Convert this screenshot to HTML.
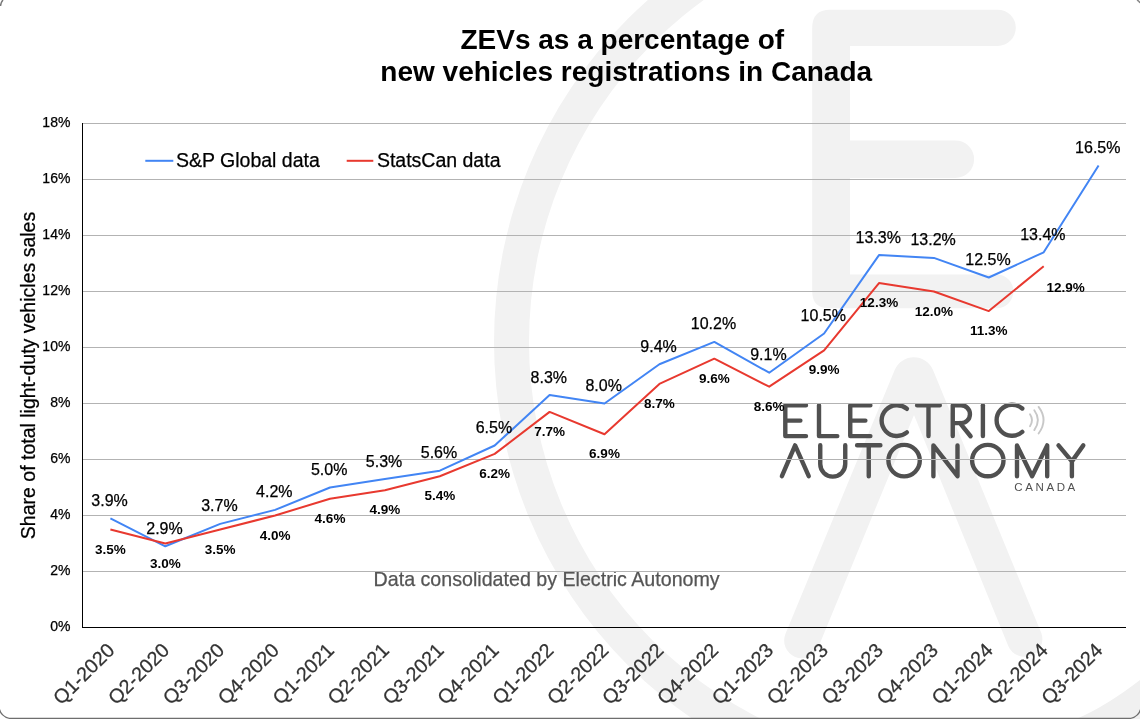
<!DOCTYPE html>
<html><head><meta charset="utf-8"><style>
html,body{margin:0;padding:0;background:#fff;}
body{width:1140px;height:719px;overflow:hidden;position:relative;}
svg{position:absolute;left:0;top:0;display:block;will-change:transform;}
text{font-family:"Liberation Sans",sans-serif;}
.s{stroke:currentColor;stroke-width:0.25px;}
</style></head><body>
<svg width="1140" height="719" viewBox="0 0 1140 719">
<rect x="0" y="0" width="1140" height="719" fill="#ffffff"/>
<path fill="#f2f2f2" fill-rule="evenodd" d="M494,342 a457,457 0 1,0 914,0 a457,457 0 1,0 -914,0 Z M529,342 a422,422 0 1,0 844,0 a422,422 0 1,0 -844,0 Z"/>
<g fill="#f2f2f2"><path d="M812.2,28 Q812.2,9.7 830,9.7 L997.7,9.7 A18.1,18.1 0 0 1 997.7,45.9 L850,45.9 L850,140.4 L955.3,140.4 A18.8,18.8 0 0 1 955.3,178 L850,178 L850,274.4 L997.7,274.4 A17,17 0 0 1 997.7,308.3 L829,308.3 Q812.2,308.3 812.2,291 Z"/><path d="M785.5,633.7 L894.8,369.8 A20.7,20.7 0 0 1 932.9,369.8 L1041.3,633 A17.75,17.75 0 0 1 1008.5,646.5 L914,415 L818.3,647.3 A17.75,17.75 0 0 1 785.5,633.7 Z"/></g>
<text x="70.4" y="630.8" font-size="14" text-anchor="end" fill="#000" color="#000" class="s">0%</text>
<text x="70.4" y="574.8" font-size="14" text-anchor="end" fill="#000" color="#000" class="s">2%</text>
<text x="70.4" y="518.8" font-size="14" text-anchor="end" fill="#000" color="#000" class="s">4%</text>
<text x="70.4" y="462.8" font-size="14" text-anchor="end" fill="#000" color="#000" class="s">6%</text>
<text x="70.4" y="406.8" font-size="14" text-anchor="end" fill="#000" color="#000" class="s">8%</text>
<text x="70.4" y="350.8" font-size="14" text-anchor="end" fill="#000" color="#000" class="s">10%</text>
<text x="70.4" y="294.8" font-size="14" text-anchor="end" fill="#000" color="#000" class="s">12%</text>
<text x="70.4" y="238.8" font-size="14" text-anchor="end" fill="#000" color="#000" class="s">14%</text>
<text x="70.4" y="182.8" font-size="14" text-anchor="end" fill="#000" color="#000" class="s">16%</text>
<text x="70.4" y="126.8" font-size="14" text-anchor="end" fill="#000" color="#000" class="s">18%</text>
<text transform="translate(34.7,375.5) rotate(-90)" font-size="19.5" text-anchor="middle" fill="#000" color="#000" class="s">Share of total light-duty vehicles sales</text>
<text x="622.3" y="48.7" font-size="28" font-weight="bold" text-anchor="middle" fill="#000">ZEVs as a percentage of</text>
<text x="626.2" y="81.2" font-size="28" font-weight="bold" text-anchor="middle" fill="#000">new vehicles registrations in Canada</text>
<rect x="145.3" y="159.8" width="28" height="2" fill="#4285f4"/>
<text x="176" y="166.7" font-size="19.5" fill="#000" color="#000" class="s">S&amp;P Global data</text>
<rect x="346.7" y="159.8" width="26.6" height="2" fill="#e8392f"/>
<text x="376.9" y="166.7" font-size="19.5" fill="#000" color="#000" class="s">StatsCan data</text>
<text x="373.6" y="586" font-size="19.65" fill="#555" color="#555" class="s">Data consolidated by Electric Autonomy</text>
<g fill="none" stroke="#505050" stroke-width="4.4" stroke-linecap="round" stroke-linejoin="round"><path d="M806,405.2 L785.3,405.2 L785.3,436.1 L806,436.1 M785.3,420.6 L800.4,420.6"/><path d="M819,405.2 L819,436.1 L837.3,436.1"/><path d="M870.4,405.2 L850.25,405.2 L850.25,436.1 L870.4,436.1 M850.25,420.6 L865.4,420.6"/><path d="M906.90,408.80 A15.4,15.4 0 1 0 906.90,432.40"/><path d="M917.1,405.2 L939.8,405.2 M928.5,405.2 L928.5,436"/><path d="M952.75,436.1 L952.75,405.2 L961,405.2 A8.95,8.95 0 0 1 961,423.1 L952.75,423.1 M960,423.1 L970.6,436.25"/><path d="M982.9,405.2 L982.9,436.1"/><path d="M1022.27,408.50 A15.5,15.5 0 1 0 1022.27,431.90"/><path d="M781.9,476.2 L795.1,445.4 L808.75,476.2"/><path d="M820.25,445.2 L820.25,464.1 A12.5,12.5 0 0 0 845.25,464.1 L845.25,445.2"/><path d="M857.1,445.2 L880.4,445.2 M868.75,445.2 L868.75,476.2"/><path d="M904.1,460.6 m-15.7,0 a15.7,15.7 0 1 0 31.4,0 a15.7,15.7 0 1 0 -31.4,0"/><path d="M933.4,476.2 L933.4,445.4 L957.5,476.2 L957.5,445.4"/><path d="M987.8,460.6 m-15.7,0 a15.7,15.7 0 1 0 31.4,0 a15.7,15.7 0 1 0 -31.4,0"/><path d="M1017,476.2 L1017,445.4 L1032.1,476.2 L1047.2,445.4 L1047.2,476.2"/><path d="M1058.5,445.4 L1071.9,461.4 L1083.3,445.4 M1071.9,461.4 L1071.9,476.2"/></g>
<g fill="none" stroke="#c8c8c8" stroke-width="1.9" stroke-linecap="round"><path d="M1030,414.2 Q1034,420 1030,426.2"/><path d="M1034.3,410.2 Q1041.5,420 1034.3,430.1"/><path d="M1038.6,406.9 Q1048.5,420 1038.6,433.5"/></g>
<text x="1014.3" y="491.3" font-size="11.5" letter-spacing="2.6" fill="#505050">CANADA</text>
<rect x="83" y="571" width="1043" height="1" fill="#b3b3b3"/>
<rect x="83" y="515" width="1043" height="1" fill="#b3b3b3"/>
<rect x="83" y="459" width="1043" height="1" fill="#b3b3b3"/>
<rect x="83" y="403" width="1043" height="1" fill="#b3b3b3"/>
<rect x="83" y="347" width="1043" height="1" fill="#b3b3b3"/>
<rect x="83" y="291" width="1043" height="1" fill="#b3b3b3"/>
<rect x="83" y="235" width="1043" height="1" fill="#b3b3b3"/>
<rect x="83" y="179" width="1043" height="1" fill="#b3b3b3"/>
<rect x="83" y="123" width="1043" height="1" fill="#b3b3b3"/>
<rect x="82" y="123" width="1" height="505" fill="#000"/>
<rect x="82" y="627" width="1044" height="1" fill="#000"/>
<polyline fill="none" stroke="#4285f4" stroke-width="2" stroke-linejoin="round" points="110.4,518.3 165.3,546.3 220.2,523.9 275.1,509.9 330.0,487.5 384.9,479.1 439.8,470.7 494.7,445.5 549.6,395.1 604.5,403.5 659.4,364.3 714.3,341.9 769.2,372.7 824.1,333.5 879.0,255.1 933.9,257.9 988.8,277.5 1043.7,252.3 1098.6,165.5"/>
<polyline fill="none" stroke="#e8392f" stroke-width="2" stroke-linejoin="round" points="110.4,529.5 165.3,543.5 220.2,529.5 275.1,515.5 330.0,498.7 384.9,490.3 439.8,476.3 494.7,453.9 549.6,411.9 604.5,434.3 659.4,383.9 714.3,358.7 769.2,386.7 824.1,350.3 879.0,283.1 933.9,291.5 988.8,311.1 1043.7,266.3"/>
<text x="109.6" y="505.8" font-size="16" text-anchor="middle" fill="#000" color="#000" class="s">3.9%</text>
<text x="164.5" y="533.8" font-size="16" text-anchor="middle" fill="#000" color="#000" class="s">2.9%</text>
<text x="219.4" y="511.4" font-size="16" text-anchor="middle" fill="#000" color="#000" class="s">3.7%</text>
<text x="274.3" y="497.4" font-size="16" text-anchor="middle" fill="#000" color="#000" class="s">4.2%</text>
<text x="329.2" y="475.0" font-size="16" text-anchor="middle" fill="#000" color="#000" class="s">5.0%</text>
<text x="384.1" y="466.6" font-size="16" text-anchor="middle" fill="#000" color="#000" class="s">5.3%</text>
<text x="439.0" y="458.2" font-size="16" text-anchor="middle" fill="#000" color="#000" class="s">5.6%</text>
<text x="493.9" y="433.0" font-size="16" text-anchor="middle" fill="#000" color="#000" class="s">6.5%</text>
<text x="548.8" y="382.6" font-size="16" text-anchor="middle" fill="#000" color="#000" class="s">8.3%</text>
<text x="603.7" y="391.0" font-size="16" text-anchor="middle" fill="#000" color="#000" class="s">8.0%</text>
<text x="658.6" y="351.8" font-size="16" text-anchor="middle" fill="#000" color="#000" class="s">9.4%</text>
<text x="713.5" y="329.4" font-size="16" text-anchor="middle" fill="#000" color="#000" class="s">10.2%</text>
<text x="768.4" y="360.2" font-size="16" text-anchor="middle" fill="#000" color="#000" class="s">9.1%</text>
<text x="823.3" y="321.0" font-size="16" text-anchor="middle" fill="#000" color="#000" class="s">10.5%</text>
<text x="878.2" y="242.6" font-size="16" text-anchor="middle" fill="#000" color="#000" class="s">13.3%</text>
<text x="933.1" y="245.4" font-size="16" text-anchor="middle" fill="#000" color="#000" class="s">13.2%</text>
<text x="988.0" y="265.0" font-size="16" text-anchor="middle" fill="#000" color="#000" class="s">12.5%</text>
<text x="1042.9" y="239.8" font-size="16" text-anchor="middle" fill="#000" color="#000" class="s">13.4%</text>
<text x="1097.8" y="153.0" font-size="16" text-anchor="middle" fill="#000" color="#000" class="s">16.5%</text>
<text x="110.4" y="553.6" font-size="13.5" font-weight="bold" text-anchor="middle" fill="#000">3.5%</text>
<text x="165.3" y="567.6" font-size="13.5" font-weight="bold" text-anchor="middle" fill="#000">3.0%</text>
<text x="220.2" y="553.6" font-size="13.5" font-weight="bold" text-anchor="middle" fill="#000">3.5%</text>
<text x="275.1" y="539.6" font-size="13.5" font-weight="bold" text-anchor="middle" fill="#000">4.0%</text>
<text x="330.0" y="522.8" font-size="13.5" font-weight="bold" text-anchor="middle" fill="#000">4.6%</text>
<text x="384.9" y="514.4" font-size="13.5" font-weight="bold" text-anchor="middle" fill="#000">4.9%</text>
<text x="439.8" y="500.4" font-size="13.5" font-weight="bold" text-anchor="middle" fill="#000">5.4%</text>
<text x="494.7" y="478.0" font-size="13.5" font-weight="bold" text-anchor="middle" fill="#000">6.2%</text>
<text x="549.6" y="436.0" font-size="13.5" font-weight="bold" text-anchor="middle" fill="#000">7.7%</text>
<text x="604.5" y="458.4" font-size="13.5" font-weight="bold" text-anchor="middle" fill="#000">6.9%</text>
<text x="659.4" y="408.0" font-size="13.5" font-weight="bold" text-anchor="middle" fill="#000">8.7%</text>
<text x="714.3" y="382.8" font-size="13.5" font-weight="bold" text-anchor="middle" fill="#000">9.6%</text>
<text x="769.2" y="410.8" font-size="13.5" font-weight="bold" text-anchor="middle" fill="#000">8.6%</text>
<text x="824.1" y="374.4" font-size="13.5" font-weight="bold" text-anchor="middle" fill="#000">9.9%</text>
<text x="879.0" y="307.2" font-size="13.5" font-weight="bold" text-anchor="middle" fill="#000">12.3%</text>
<text x="933.9" y="315.6" font-size="13.5" font-weight="bold" text-anchor="middle" fill="#000">12.0%</text>
<text x="988.8" y="335.2" font-size="13.5" font-weight="bold" text-anchor="middle" fill="#000">11.3%</text>
<text x="1065.7" y="292.4" font-size="13.5" font-weight="bold" text-anchor="middle" fill="#000">12.9%</text>
<text transform="translate(115.7,651.4) rotate(-45)" font-size="19.8" text-anchor="end" fill="#333" color="#333" class="s">Q1-2020</text>
<text transform="translate(170.6,651.4) rotate(-45)" font-size="19.8" text-anchor="end" fill="#333" color="#333" class="s">Q2-2020</text>
<text transform="translate(225.5,651.4) rotate(-45)" font-size="19.8" text-anchor="end" fill="#333" color="#333" class="s">Q3-2020</text>
<text transform="translate(280.4,651.4) rotate(-45)" font-size="19.8" text-anchor="end" fill="#333" color="#333" class="s">Q4-2020</text>
<text transform="translate(335.3,651.4) rotate(-45)" font-size="19.8" text-anchor="end" fill="#333" color="#333" class="s">Q1-2021</text>
<text transform="translate(390.2,651.4) rotate(-45)" font-size="19.8" text-anchor="end" fill="#333" color="#333" class="s">Q2-2021</text>
<text transform="translate(445.1,651.4) rotate(-45)" font-size="19.8" text-anchor="end" fill="#333" color="#333" class="s">Q3-2021</text>
<text transform="translate(500.0,651.4) rotate(-45)" font-size="19.8" text-anchor="end" fill="#333" color="#333" class="s">Q4-2021</text>
<text transform="translate(554.9,651.4) rotate(-45)" font-size="19.8" text-anchor="end" fill="#333" color="#333" class="s">Q1-2022</text>
<text transform="translate(609.8,651.4) rotate(-45)" font-size="19.8" text-anchor="end" fill="#333" color="#333" class="s">Q2-2022</text>
<text transform="translate(664.7,651.4) rotate(-45)" font-size="19.8" text-anchor="end" fill="#333" color="#333" class="s">Q3-2022</text>
<text transform="translate(719.6,651.4) rotate(-45)" font-size="19.8" text-anchor="end" fill="#333" color="#333" class="s">Q4-2022</text>
<text transform="translate(774.5,651.4) rotate(-45)" font-size="19.8" text-anchor="end" fill="#333" color="#333" class="s">Q1-2023</text>
<text transform="translate(829.4,651.4) rotate(-45)" font-size="19.8" text-anchor="end" fill="#333" color="#333" class="s">Q2-2023</text>
<text transform="translate(884.3,651.4) rotate(-45)" font-size="19.8" text-anchor="end" fill="#333" color="#333" class="s">Q3-2023</text>
<text transform="translate(939.2,651.4) rotate(-45)" font-size="19.8" text-anchor="end" fill="#333" color="#333" class="s">Q4-2023</text>
<text transform="translate(994.1,651.4) rotate(-45)" font-size="19.8" text-anchor="end" fill="#333" color="#333" class="s">Q1-2024</text>
<text transform="translate(1049.0,651.4) rotate(-45)" font-size="19.8" text-anchor="end" fill="#333" color="#333" class="s">Q2-2024</text>
<text transform="translate(1103.9,651.4) rotate(-45)" font-size="19.8" text-anchor="end" fill="#333" color="#333" class="s">Q3-2024</text>
<path d="M1075,719.5 Q1105,707 1140,680 L1141,719.5 Z" fill="#f0f0f0"/>
<path d="M-1,706 A12.5,12.5 0 0 0 11.5,718.5 L1128.5,718.5 A12.5,12.5 0 0 0 1141,706" fill="none" stroke="#6e6e6e" stroke-width="1.3"/>
<path d="M0.5,6 Q1,2 3,0" fill="none" stroke="#777" stroke-width="1.5"/>
<path d="M1137,0 Q1139,1 1140,3" fill="none" stroke="#888" stroke-width="1.5"/>
</svg></body></html>
